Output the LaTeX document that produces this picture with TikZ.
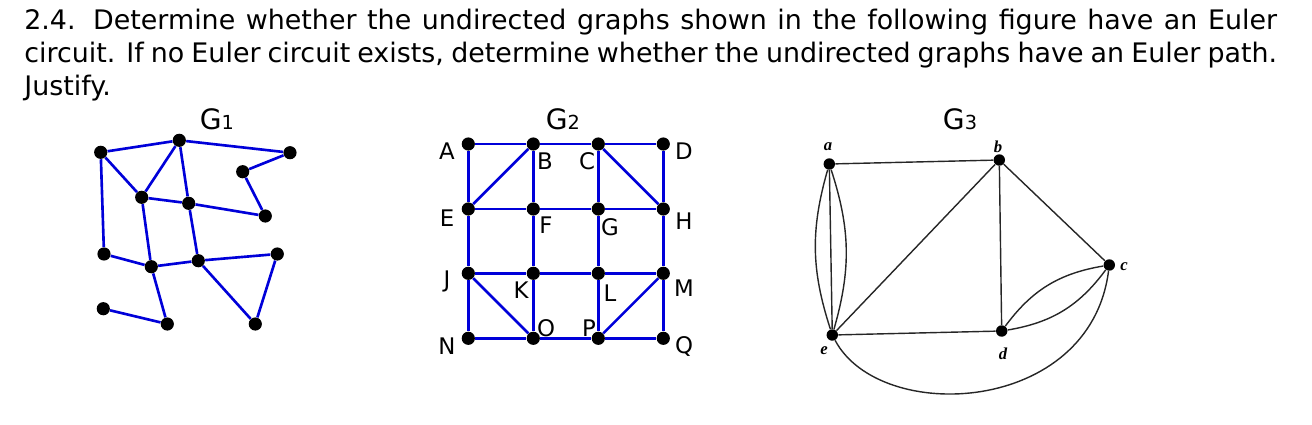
\documentclass[tikz,border=0pt]{standalone}
\usepackage{fontspec}
\setmainfont{DejaVu Sans}
\newfontfamily\serifit{Liberation Serif}
\begin{document}
\begin{tikzpicture}[x=0.02cm,y=-0.02cm,
  bdot/.style={circle,fill=black,inner sep=0pt,minimum size=7.5pt},
  sdot/.style={circle,fill=black,inner sep=0pt,minimum size=6.5pt},
  be/.style={draw=blue!85!black,line width=1.5pt},
  ke/.style={draw=black!85,line width=0.8pt},
  lab/.style={font=\fontsize{13}{13}\selectfont,inner sep=0pt},
  glab/.style={font=\fontsize{16}{16}\selectfont,inner sep=0pt},
  elab/.style={font=\serifit\itshape\bfseries\fontsize{9.5}{9.5}\selectfont,inner sep=0pt}]
\useasboundingbox (0,0) rectangle (1312,424);
\node[anchor=north west,inner sep=0pt,text width=25.06cm,align=justify,font=\fontsize{15.3}{18.8}\selectfont] (txt) at (24,9)
{2.4. Determine whether the undirected graphs shown in the following figure have an Euler circuit. If no Euler circuit exists, determine whether the undirected graphs have an Euler path. Justify.};
\node[glab] (g1) at (217,119) {G{\fontsize{11}{11}\selectfont 1}};
\node[glab] (g2) at (563,119) {G{\fontsize{11}{11}\selectfont 2}};
\node[glab] (g3) at (960,119) {G{\fontsize{11}{11}\selectfont 3}};
% G1
\foreach \n/\x/\y in {1/100.7/152.3,2/179.3/140.3,3/290/152.7,4/242.7/171.7,5/141.7/197.3,6/188.7/203.3,7/265.3/216,8/104/254,9/151.3/266.7,10/198.3/260.7,11/277.3/254,12/103.3/308.7,13/167.3/324,14/255.3/324}
  \node[bdot] (p\n) at (\x,\y) {};
\foreach \a/\b in {1/2,2/3,3/4,4/7,1/5,1/8,2/5,2/6,5/6,6/7,5/9,6/10,8/9,9/10,10/11,10/14,11/14,9/13,12/13}
  \draw[be] (p\a) -- (p\b);
% G2
\foreach \n/\x/\y in {A/468.3/144,B/533.3/144,C/598.3/144,D/663.3/144,E/468.3/209,F/533.3/209,G/598.3/209,H/663.3/209,J/468.3/273.3,K/533.3/273.3,L/598.3/273.3,M/663.3/273.3,N/468.3/338.3,O/533.3/338.3,P/598.3/338.3,Q/663.3/338.3}
  \node[bdot] (\n) at (\x,\y) {};
\foreach \a/\b in {A/B,B/C,C/D,E/F,F/G,G/H,J/K,K/L,L/M,N/O,O/P,P/Q,A/E,E/J,J/N,B/F,F/K,K/O,C/G,G/L,L/P,D/H,H/M,M/Q,B/E,C/H,J/O,P/M}
  \draw[be] (\a) -- (\b);
\foreach \n/\x/\y in {A/447/151,B/545/161,C/587/161,D/684/151,E/447/218,F/546/225,G/610/227,H/684/221,J/447/281,K/521/290,L/610/293,M/684/288,N/447/346,O/546/328,P/589/328,Q/684/346}
  \node[lab] (l\n) at (\x,\y) {\n};
% G3
\node[sdot] (a) at (829.3,164) {};
\node[sdot] (b) at (999.3,160) {};
\node[sdot] (c) at (1109.3,265) {};
\node[sdot] (d) at (1001.7,331) {};
\node[sdot] (e) at (832.3,335) {};
\node[elab] (la) at (828,147) {a};
\node[elab] (lb) at (998,147) {b};
\node[elab] (lc) at (1124,267) {c};
\node[elab] (ld) at (1003,354) {d};
\node[elab] (le) at (824,351) {e};
\draw[ke] (a) -- (e);
\draw[ke] (a) to[bend right=17] (e);
\draw[ke] (a) to[bend left=17] (e);
\draw[ke] (a) -- (b);
\draw[ke] (b) -- (e);
\draw[ke] (b) -- (d);
\draw[ke] (b) -- (c);
\draw[ke] (e) -- (d);
\draw[ke] (d) to[bend left=22] (c);
\draw[ke] (d) to[bend right=22] (c);
\draw[ke] (e) .. controls (880,425) and (1090,415) .. (c);
\end{tikzpicture}
\end{document}
